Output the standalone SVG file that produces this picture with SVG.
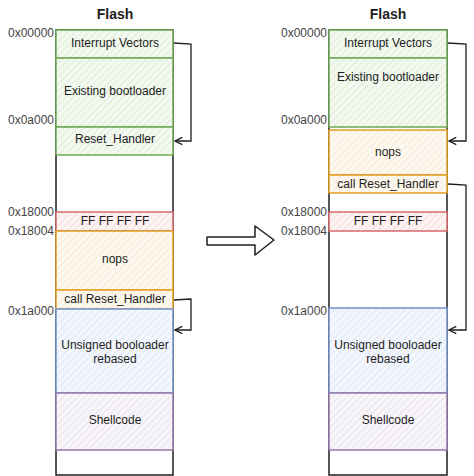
<svg xmlns="http://www.w3.org/2000/svg" width="474" height="476" viewBox="0 0 474 476">
<defs>
<pattern id="hg" width="5" height="5" patternUnits="userSpaceOnUse" patternTransform="rotate(45)"><rect width="5" height="5" fill="#f3f9f0"/><line x1="0" y1="0" x2="0" y2="5" stroke="#c9dfbd" stroke-width="1"/></pattern>
<pattern id="hr" width="5" height="5" patternUnits="userSpaceOnUse" patternTransform="rotate(45)"><rect width="5" height="5" fill="#fdf3f3"/><line x1="0" y1="0" x2="0" y2="5" stroke="#efc4c4" stroke-width="1"/></pattern>
<pattern id="ho" width="5" height="5" patternUnits="userSpaceOnUse" patternTransform="rotate(45)"><rect width="5" height="5" fill="#fdf8f0"/><line x1="0" y1="0" x2="0" y2="5" stroke="#f3ddb8" stroke-width="1"/></pattern>
<pattern id="hb" width="5" height="5" patternUnits="userSpaceOnUse" patternTransform="rotate(45)"><rect width="5" height="5" fill="#f3f7fd"/><line x1="0" y1="0" x2="0" y2="5" stroke="#cbd9ee" stroke-width="1"/></pattern>
<pattern id="hp" width="5" height="5" patternUnits="userSpaceOnUse" patternTransform="rotate(45)"><rect width="5" height="5" fill="#f8f5f9"/><line x1="0" y1="0" x2="0" y2="5" stroke="#d9cfe0" stroke-width="1"/></pattern>
<marker id="ah" viewBox="0 0 10 10" refX="9" refY="5" markerWidth="7" markerHeight="7" orient="auto"><path d="M1,1 L9,5 L1,9" fill="none" stroke="#1e1e1e" stroke-width="1.5"/></marker>
</defs>
<style>
text{font-family:"Liberation Sans",Arial,sans-serif;fill:#1e1e1e}
.t{font-size:12px;text-anchor:middle}
.a{font-size:12px;text-anchor:end;fill:#444}
.h{font-size:14px;font-weight:bold;text-anchor:middle}
.outer{fill:#fff;stroke:#1e1e1e;stroke-width:1.5}
.g{fill:url(#hg);stroke:#6fa855;stroke-width:1.5}
.r{fill:url(#hr);stroke:#d36a6e;stroke-width:1.5}
.o{fill:url(#ho);stroke:#e0a020;stroke-width:1.5}
.b{fill:url(#hb);stroke:#7393c9;stroke-width:1.5}
.p{fill:url(#hp);stroke:#9577a8;stroke-width:1.5}
.c{fill:none;stroke:#1e1e1e;stroke-width:1.3}
</style>
<g id="left">
<text class="h" x="115" y="19">Flash</text>
<rect class="outer" x="56" y="30" width="117" height="445"/>
<g id="l-iv"><rect class="g" x="56" y="30" width="117" height="28"/><text class="t" x="115" y="47">Interrupt Vectors</text></g>
<g id="l-eb"><rect class="g" x="56" y="58" width="117" height="69"/><text class="t" x="115" y="95">Existing bootloader</text></g>
<g id="l-rh"><rect class="g" x="56" y="127" width="117" height="28"/><text class="t" x="115" y="143">Reset_Handler</text></g>
<g id="l-ff"><rect class="r" x="56" y="212" width="117" height="19"/><text class="t" x="115" y="225">FF FF FF FF</text></g>
<g id="l-nops"><rect class="o" x="56" y="231" width="117" height="59"/><text class="t" x="115" y="263">nops</text></g>
<g id="l-call"><rect class="o" x="56" y="290" width="117" height="19"/><text class="t" x="115" y="303">call Reset_Handler</text></g>
<g id="l-ub"><rect class="b" x="56" y="309" width="117" height="84"/><text class="t" x="115" y="349">Unsigned booloader</text><text class="t" x="115" y="363">rebased</text></g>
<g id="l-sc"><rect class="p" x="56" y="393" width="117" height="57"/><text class="t" x="115" y="424">Shellcode</text></g>
<text class="a" x="54" y="37">0x00000</text>
<text class="a" x="54" y="124">0x0a000</text>
<text class="a" x="54" y="216">0x18000</text>
<text class="a" x="54" y="235">0x18004</text>
<text class="a" x="54" y="315">0x1a000</text>
</g>
<g id="right">
<text class="h" x="388" y="19">Flash</text>
<rect class="outer" x="329" y="30" width="118" height="445"/>
<g id="r-iv"><rect class="g" x="329" y="30" width="118" height="28"/><text class="t" x="388" y="47">Interrupt Vectors</text></g>
<g id="r-eb"><rect class="g" x="329" y="58" width="118" height="69"/><text class="t" x="388" y="81">Existing bootloader</text></g>
<g id="r-nops"><rect class="o" x="329" y="130" width="118" height="45"/><text class="t" x="388" y="156">nops</text></g>
<g id="r-call"><rect class="o" x="329" y="175" width="118" height="18"/><text class="t" x="388" y="188">call Reset_Handler</text></g>
<g id="r-ff"><rect class="r" x="329" y="212" width="118" height="19"/><text class="t" x="388" y="225">FF FF FF FF</text></g>
<g id="r-ub"><rect class="b" x="329" y="308" width="118" height="85"/><text class="t" x="388" y="349">Unsigned booloader</text><text class="t" x="388" y="363">rebased</text></g>
<g id="r-sc"><rect class="p" x="329" y="393" width="118" height="57"/><text class="t" x="388" y="424">Shellcode</text></g>
<text class="a" x="327" y="37">0x00000</text>
<text class="a" x="327" y="124">0x0a000</text>
<text class="a" x="327" y="216">0x18000</text>
<text class="a" x="327" y="235">0x18004</text>
<text class="a" x="327" y="315">0x1a000</text>
</g>
<g id="connectors">
<polyline class="c" points="174,43 191,44 191,141 175,141" marker-end="url(#ah)"/>
<polyline class="c" points="174,300 191,299 191,330 175,330" marker-end="url(#ah)"/>
<polyline class="c" points="448,43 466,44 466,141 449,141" marker-end="url(#ah)"/>
<polyline class="c" points="448,184 466,185 466,330 449,330" marker-end="url(#ah)"/>
<path d="M207,237 L255,237 L255,226 L274,240 L255,255 L255,245 L207,245 Z" fill="#fff" stroke="#1e1e1e" stroke-width="1.5" stroke-linejoin="round"/>
</g>
</svg>
